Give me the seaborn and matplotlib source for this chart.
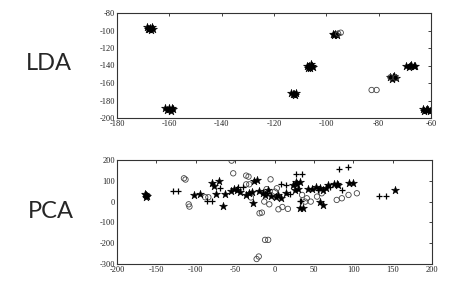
import matplotlib
matplotlib.use("Agg")
import matplotlib.pyplot as plt
import seaborn as sns
import numpy as np

# ---- LDA data ----
lda_star_x = [-168.5, -167.5, -166.5, -167.8, -166.2, -167.0, -168.0,
              -161.5, -160.0, -158.5, -159.5, -160.8, -159.0, -160.2,
              -113.5, -112.5, -111.5, -112.0, -112.8,
              -107.5, -106.5, -105.5, -106.0, -107.0, -105.2, -106.2,
              -97.5, -96.5, -96.0, -97.0,
              -75.5, -74.5, -73.5, -74.8, -74.0,
              -69.5, -68.0, -66.5, -67.5, -68.5, -66.0,
              -63.0, -62.0, -61.0, -62.5, -60.5, -61.5]
lda_star_y = [-96.5, -97.0, -96.5, -98.5, -98.0, -99.0, -98.0,
              -189.0, -190.0, -189.5, -191.5, -191.0, -188.5, -188.0,
              -171.5, -172.0, -171.0, -173.5, -173.0,
              -140.5, -141.0, -140.0, -138.0, -142.5, -142.0, -143.0,
              -104.0, -103.5, -105.0, -105.5,
              -153.0, -153.5, -154.0, -155.0, -152.5,
              -140.0, -140.5, -140.0, -139.0, -141.5, -141.0,
              -190.0, -190.5, -191.0, -191.5, -192.0, -189.5]
lda_circ_x = [-95.5, -94.5, -82.7, -80.8, -75.5, -73.5]
lda_circ_y = [-103.5, -102.5, -168.0, -168.0, -153.5, -154.0]

# ---- PCA data ----
pca_star_x = [-164, -163, -162, -163, -101.6, -95, -79, -77, -70, -74.5, -66, -62.6,
              -55, -52, -48, -44, -36, -32, -28, -25.7, -22.7, -27, -20, -15, -12,
              -8, -4, 2, 5, 8, 14, 24, 27, 29, 32, 30, 26, 32, 36,
              43, 48, 53, 58, 62, 66, 58, 61, 68.5, 75, 79, 81, 94, 100, 153]
pca_star_y = [38, 30, 25, 20, 32, 37, 88, 75, 99, 35, -21, 37,
              50, 62, 55, 48, 33, 40, 45, 99, 104, -8, 50, 40, 30,
              55, 25, 20, 30, 15, 40, 80, 92, 85, 96, 60, 55, -32, -32,
              60, 62, 68, 64, 58, 66, 0, -16, 80, 85, 85, 80, 88, 88, 56]
pca_plus_x = [-128.8, -122.4, -85.5, -80, -69, -46, -40, -10, 8, 15, 20,
              27, 35, 32, 34, 55, 70, 82, 93, 85.5, 133, 141]
pca_plus_y = [51, 51, 3, 5, 64, 72, 70, 40, 83, 80, 35,
              135, 135, 3, 3, 55, 70, 157, 165, 56, 29, 29]
pca_circ_x = [-115, -113, -109, -108, -88, -84, -54.5, -52.4, -36, -33, -36, -32,
              -19, -16, -12, -8, -22.7, -20, -13, -6.6, -5, 3, 0.6, 5, 10, 17,
              35, 41, 46, 54, 39, 79, 85.5, 94, 104.6, -30, -10, 60]
pca_circ_y = [112, 106, -13, -24, 21, 21, 197, 136, 125, 120, 83, 83,
              -56, -53, -184, -184, -276, -264, 0, -13, 107, 64, 48, -37, -26, -35,
              32, 16, 0, 24, 0, 8, 16, 32, 40, 20, 60, 40]

plt.rcParams['axes.unicode_minus'] = False
sns.set_style("white")
plt.rcParams['font.family'] = ['Liberation Serif', 'DejaVu Serif']

fig = plt.figure(figsize=(4.74, 2.85), dpi=100)
fig.patch.set_facecolor("white")

ax1 = fig.add_axes([117/474, 1 - 118/285, 314/474, 105/285])
ax2 = fig.add_axes([117/474, 1 - 264/285, 315/474, 104/285])

star_kw = dict(marker='*', color='black', s=36, linewidth=0.4, edgecolor='black')
circ_kw = dict(marker='o', facecolor='none', edgecolor='#444444', s=15, linewidth=0.6)
plus_kw = dict(marker='+', color='black', s=20, linewidth=0.9)

sns.scatterplot(x=lda_star_x, y=lda_star_y, ax=ax1, **star_kw)
sns.scatterplot(x=lda_circ_x, y=lda_circ_y, ax=ax1, **circ_kw)

sns.scatterplot(x=pca_circ_x, y=pca_circ_y, ax=ax2, **circ_kw)
sns.scatterplot(x=pca_plus_x, y=pca_plus_y, ax=ax2, **plus_kw)
sns.scatterplot(x=pca_star_x, y=pca_star_y, ax=ax2, **star_kw)

ax1.set_xlim(-180, -60)
ax1.set_ylim(-200, -80)
ax1.set_xticks(np.arange(-180, -59, 20))
ax1.set_yticks(np.arange(-200, -79, 20))
ax2.set_xlim(-200, 200)
ax2.set_ylim(-300, 200)
ax2.set_xticks(np.arange(-200, 201, 50))
ax2.set_yticks(np.arange(-300, 201, 100))

for ax in (ax1, ax2):
    for sp in ax.spines.values():
        sp.set_visible(True)
        sp.set_color('#333333')
        sp.set_linewidth(0.8)
    ax.tick_params(direction='in', length=2.5, width=0.6, top=True, right=True,
                   labelsize=6, pad=1.5, colors='#222222')

fig.text(49/474, 1 - 63/285, "LDA", fontsize=17, family=['Lato', 'DejaVu Sans'],
         ha='center', va='center')
fig.text(51/474, 1 - 212/285, "PCA", fontsize=17, family=['Lato', 'DejaVu Sans'],
         ha='center', va='center')

fig.savefig("out.png", dpi=100, facecolor="white")
